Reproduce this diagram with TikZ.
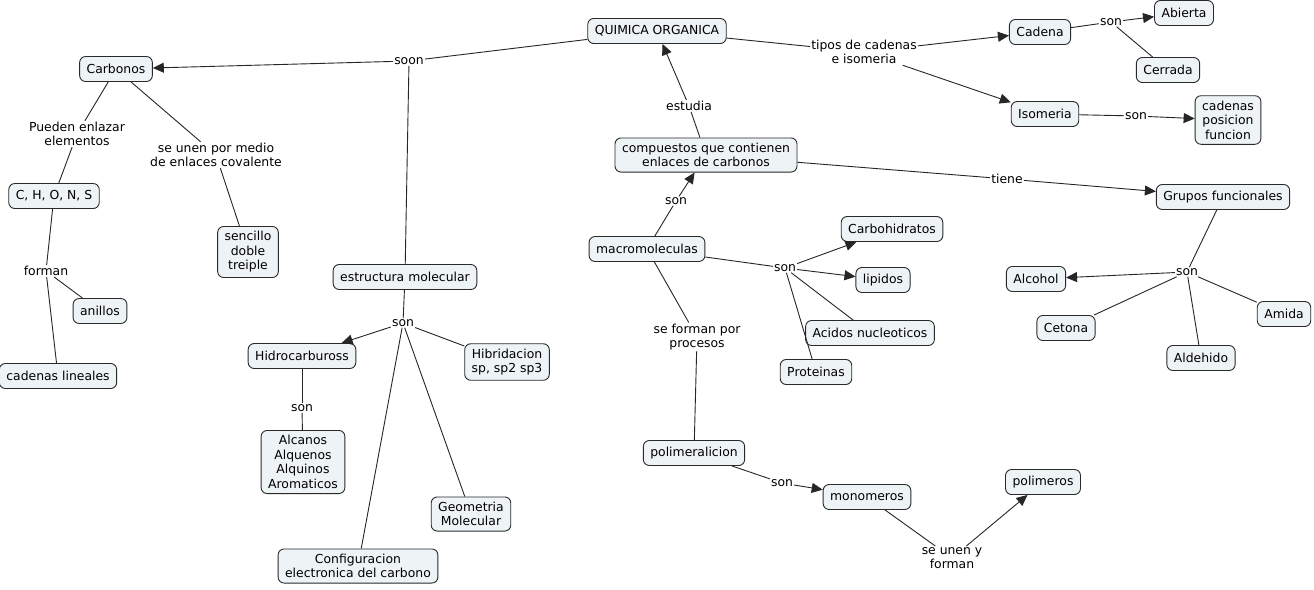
\documentclass[tikz,border=0pt]{standalone}
\usepackage{fontspec}
\setmainfont{DejaVu Sans}
\usetikzlibrary{arrows.meta}
\definecolor{cfill}{HTML}{EEF3F6}
\definecolor{cline}{HTML}{2A2A2A}
\begin{document}
\begin{tikzpicture}[x=1pt,y=-1pt,
 concept/.style={draw=cline, fill=cfill, rounded corners=6pt, line width=0.9pt, align=center, inner xsep=7pt, inner ysep=5pt, minimum height=25pt, font=\fontsize{12.4}{14.5}\selectfont},
 link/.style={align=center, inner xsep=1pt, inner ysep=1pt, font=\fontsize{12.4}{14.5}\selectfont},
 conn/.style={draw=black!85, line width=0.9pt},
 arr/.style={conn, -{Triangle[length=11pt,width=10pt]}}]
\useasboundingbox[fill=white] (0,0) rectangle (1314,589);
% concepts
\node[concept] (qo) at (657,31) {QUIMICA ORGANICA};
\node[concept] (carb) at (116,69) {Carbonos};
\node[concept] (chons) at (54,196) {C, H, O, N, S};
\node[concept] (senc) at (248,252) {sencillo\\doble\\treiple};
\node[concept] (anil) at (100,311) {anillos};
\node[concept] (cadl) at (58,376) {cadenas lineales};
\node[concept] (estr) at (405,277) {estructura molecular};
\node[concept] (hidro) at (302,356) {Hidrocarbuross};
\node[concept] (hibr) at (507,362) {Hibridacion\\sp, sp2 sp3};
\node[concept] (alca) at (303,462) {Alcanos\\Alquenos\\Alquinos\\Aromaticos};
\node[concept] (geom) at (471,514) {Geometria\\ Molecular};
\node[concept] (conf) at (358,566) {Configuracion\\electronica del carbono};
\node[concept] (comp) at (706,155) {compuestos que contienen\\enlaces de carbonos};
\node[concept] (macro) at (647,249) {macromoleculas};
\node[concept] (carbh) at (892,229) {Carbohidratos};
\node[concept] (lip) at (883,280) {lipidos};
\node[concept] (acid) at (870,333) {Acidos nucleoticos};
\node[concept] (prot) at (816,372) {Proteinas};
\node[concept] (polim) at (694,453) {polimeralicion};
\node[concept] (mono) at (867,497) {monomeros};
\node[concept] (polis) at (1043,482) {polimeros};
\node[concept] (cad) at (1040,32) {Cadena};
\node[concept] (abi) at (1184,13) {Abierta};
\node[concept] (cerr) at (1168,70) {Cerrada};
\node[concept] (iso) at (1045,114) {Isomeria};
\node[concept] (cpf) at (1228,120) {cadenas\\posicion\\funcion};
\node[concept] (grup) at (1223,197) {Grupos funcionales};
\node[concept] (alco) at (1036,279) {Alcohol};
\node[concept] (ceto) at (1066,328) {Cetona};
\node[concept] (amid) at (1284,314) {Amida};
\node[concept] (alde) at (1201,358) {Aldehido};
% linking phrases
\node[link] (soon) at (409,61) {soon};
\node[link] (pued) at (77,134) {Pueden enlazar\\elementos};
\node[link] (seun) at (216,155) {se unen por medio\\de enlaces covalente};
\node[link] (form) at (46,271) {forman};
\node[link] (son1) at (403,323) {son};
\node[link] (son2) at (302,408) {son};
\node[link] (estu) at (689,106) {estudia};
\node[link] (tipo) at (864,52) {tipos de cadenas\\e isomeria};
\node[link] (son3) at (1111,22) {son};
\node[link] (son4) at (1136,116) {son};
\node[link] (tien) at (1007,179) {tiene};
\node[link] (son5) at (676,201) {son};
\node[link] (son6) at (785,268) {son};
\node[link] (sefo) at (697,337) {se forman por\\procesos};
\node[link] (son7) at (782,483) {son};
\node[link] (seuy) at (952,558) {se unen y\\forman};
\node[link] (son8) at (1187,272) {son};
% connectors
\draw[conn] (qo) -- (soon);
\draw[arr] (soon) -- (carb);
\draw[conn] (soon) -- (estr);
\draw[conn] (carb) -- (pued);
\draw[conn] (pued) -- (chons);
\draw[conn] (carb) -- (seun);
\draw[conn] (seun) -- (senc);
\draw[conn] (chons) -- (form);
\draw[conn] (form) -- (anil);
\draw[conn] (form) -- (cadl);
\draw[conn] (estr) -- (son1);
\draw[arr] (son1) -- (hidro);
\draw[conn] (son1) -- (hibr);
\draw[conn] (son1) -- (geom);
\draw[conn] (son1) -- (conf);
\draw[conn] (hidro) -- (son2);
\draw[conn] (son2) -- (alca);
\draw[conn] (comp) -- (estu);
\draw[arr] (estu) -- (qo);
\draw[conn] (qo) -- (tipo);
\draw[arr] (tipo) -- (cad);
\draw[arr] (tipo) -- (iso);
\draw[conn] (cad) -- (son3);
\draw[arr] (son3) -- (abi);
\draw[conn] (son3) -- (cerr);
\draw[conn] (iso) -- (son4);
\draw[arr] (son4) -- (cpf);
\draw[conn] (comp) -- (tien);
\draw[arr] (tien) -- (grup);
\draw[conn] (macro) -- (son5);
\draw[arr] (son5) -- (comp);
\draw[conn] (macro) -- (son6);
\draw[arr] (son6) -- (carbh);
\draw[arr] (son6) -- (lip);
\draw[conn] (son6) -- (acid);
\draw[conn] (son6) -- (prot);
\draw[conn] (macro) -- (sefo);
\draw[conn] (sefo) -- (polim);
\draw[conn] (polim) -- (son7);
\draw[arr] (son7) -- (mono);
\draw[conn] (mono) -- (seuy);
\draw[arr] (seuy) -- (polis);
\draw[conn] (grup) -- (son8);
\draw[arr] (son8) -- (alco);
\draw[conn] (son8) -- (ceto);
\draw[conn] (son8) -- (alde);
\draw[conn] (son8) -- (amid);
\end{tikzpicture}
\end{document}
